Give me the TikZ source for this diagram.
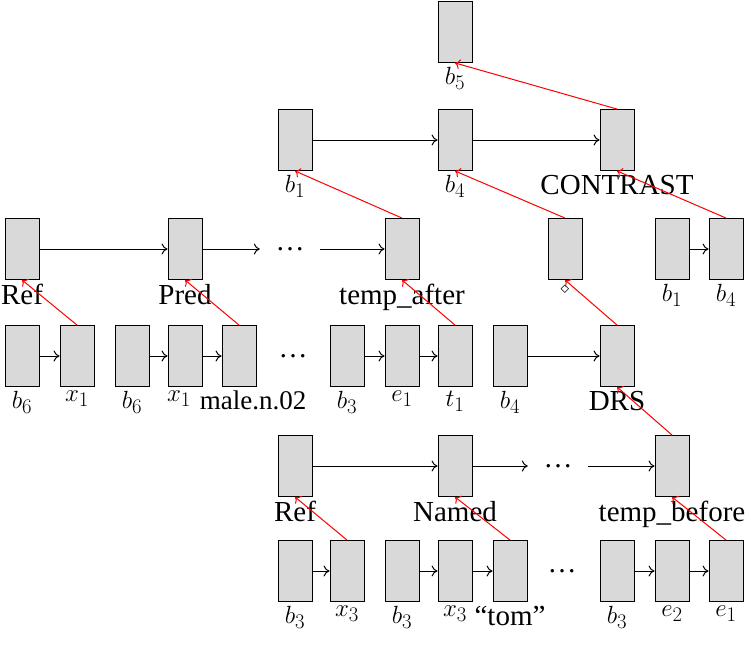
\documentclass[tikz,border=0pt]{standalone}
\usepackage{fontspec}
\setmainfont{Liberation Serif}
\usepackage{tikz}
\usetikzlibrary{positioning,
                arrows.meta}            % arrow tips

\tikzset{
  box/.style={draw, fill=gray!30, line width=0.9pt, minimum width=34pt, minimum height=61pt, inner sep=0pt},
  lbl/.style={font=\fontsize{29}{31}\selectfont, inner sep=1pt},
  lnk/.style={-{To[length=6pt,width=11pt]}, line width=1pt},
  up/.style={-{To[length=5pt,width=10pt]}, red, line width=1pt}
}

\begin{document}
\begin{tikzpicture}[x=1pt, y=-1pt]
    \useasboundingbox (0,0) rectangle (751,646);

    % top level
    \node[box] (b5) at (455,32) {};
    \node[lbl, below=3pt of b5] (lb5) {$b_5$};

    \node[box] (b1) at (295,140) {};
    \node[box] (b4) at (455,140) {};
    \node[box] (con) at (617,140) {};
    \node[lbl, below=3pt of b1] (lb1) {$b_1$};
    \node[lbl, below=3pt of b4] (lb4) {$b_4$};
    \node[lbl, below=3pt of con] (lcon) {CONTRAST};

    % second level
    \node[box] (ref) at (22,249) {};
    \node[box] (pred) at (185,249) {};
    \node[lbl, minimum width=60pt] (dotsa) at (290,249) {\dots};
    \node[box] (ta) at (402,249) {};
    \node[box] (dia) at (565,249) {};
    \node[box] (cb1) at (672,249) {};
    \node[box] (cb4) at (726,249) {};
    \node[lbl, below=3pt of ref] (lref) {Ref};
    \node[lbl, below=3pt of pred] (lpred) {Pred};
    \node[lbl, below=3pt of ta] (lta) {temp\_after};
    \node[below=6pt of dia, inner sep=0pt] (ldia) {\LARGE$\diamond$};
    \node[lbl, below=3pt of cb1] (lcb1) {$b_1$};
    \node[lbl, below=3pt of cb4] (lcb4) {$b_4$};

    % third level
    \node[box] (d1) at (22,356) {};
    \node[box] (d2) at (77,356) {};
    \node[box] (d3) at (132,356) {};
    \node[box] (d4) at (185,356) {};
    \node[box] (d5) at (239,356) {};
    \node[lbl] (dotsb) at (293,356) {\dots};
    \node[box] (d6) at (347,356) {};
    \node[box] (d7) at (402,356) {};
    \node[box] (d8) at (455,356) {};
    \node[box] (d9) at (510,356) {};
    \node[box] (drs) at (617,356) {};
    \node[lbl, below=3pt of d1] (ld1) {$b_6$};
    \node[lbl, below=3pt of d2] (ld2) {$x_1$};
    \node[lbl, below=3pt of d3] (ld3) {$b_6$};
    \node[lbl, below=3pt of d4, xshift=-6pt] (ld4) {$x_1$};
    \node[lbl, below=3pt of d5, xshift=14pt, font=\fontsize{27}{29}\selectfont] (ld5) {male.n.02};
    \node[lbl, below=3pt of d6] (ld6) {$b_3$};
    \node[lbl, below=3pt of d7] (ld7) {$e_1$};
    \node[lbl, below=3pt of d8] (ld8) {$t_1$};
    \node[lbl, below=3pt of d9] (ld9) {$b_4$};
    \node[lbl, below=3pt of drs] (ldrs) {DRS};

    % fourth level
    \node[box] (eref) at (295,466) {};
    \node[box] (enam) at (455,466) {};
    \node[lbl, minimum width=60pt] (dotsc) at (558,466) {\dots};
    \node[box] (etb) at (672,466) {};
    \node[lbl, below=3pt of eref] (leref) {Ref};
    \node[lbl, below=3pt of enam] (lenam) {Named};
    \node[lbl, below=3pt of etb] (letb) {temp\_before};

    % leaves
    \node[box] (f1) at (295,571) {};
    \node[box] (f2) at (347,571) {};
    \node[box] (f3) at (402,571) {};
    \node[box] (f4) at (455,571) {};
    \node[box] (f5) at (510,571) {};
    \node[lbl] (dotsd) at (562,571) {\dots};
    \node[box] (f6) at (617,571) {};
    \node[box] (f7) at (672,571) {};
    \node[box] (f8) at (726,571) {};
    \node[lbl, below=3pt of f1] (lf1) {$b_3$};
    \node[lbl, below=3pt of f2] (lf2) {$x_3$};
    \node[lbl, below=3pt of f3] (lf3) {$b_3$};
    \node[lbl, below=3pt of f4] (lf4) {$x_3$};
    \node[lbl, below=3pt of f5] (lf5) {``tom''};
    \node[lbl, below=3pt of f6] (lf6) {$b_3$};
    \node[lbl, below=3pt of f7] (lf7) {$e_2$};
    \node[lbl, below=3pt of f8] (lf8) {$e_1$};

    % sequence links
    \draw[lnk] (b1) -- (b4);
    \draw[lnk] (b4) -- (con);
    \draw[lnk] (ref) -- (pred);
    \draw[lnk] (pred) -- (dotsa);
    \draw[lnk] (dotsa) -- (ta);
    \draw[lnk] (cb1) -- (cb4);
    \draw[lnk] (d1) -- (d2);
    \draw[lnk] (d3) -- (d4);
    \draw[lnk] (d4) -- (d5);
    \draw[lnk] (d6) -- (d7);
    \draw[lnk] (d7) -- (d8);
    \draw[lnk] (d9) -- (drs);
    \draw[lnk] (eref) -- (enam);
    \draw[lnk] (enam) -- (dotsc);
    \draw[lnk] (dotsc) -- (etb);
    \draw[lnk] (f1) -- (f2);
    \draw[lnk] (f3) -- (f4);
    \draw[lnk] (f4) -- (f5);
    \draw[lnk] (f6) -- (f7);
    \draw[lnk] (f7) -- (f8);

    % child to parent
    \draw[up] (con.north) -- (b5.south);
    \draw[up] (ta.north) -- (b1.south);
    \draw[up] (dia.north) -- (b4.south);
    \draw[up] (cb4.north) -- (con.south);
    \draw[up] (d2.north) -- (ref.south);
    \draw[up] (d5.north) -- (pred.south);
    \draw[up] (d8.north) -- (ta.south);
    \draw[up] (drs.north) -- (dia.south);
    \draw[up] (etb.north) -- (drs.south);
    \draw[up] (f2.north) -- (eref.south);
    \draw[up] (f5.north) -- (enam.south);
    \draw[up] (f8.north) -- (etb.south);
\end{tikzpicture}
\end{document}
